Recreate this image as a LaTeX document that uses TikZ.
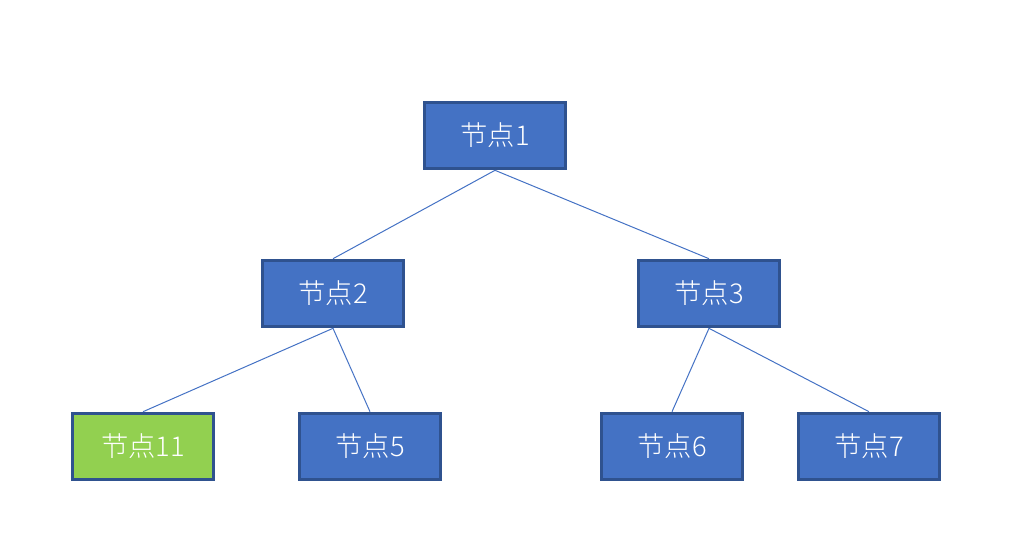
\documentclass[tikz,border=0pt]{standalone}
\usepackage{fontspec}
\setmainfont{Carlito}
\newfontfamily\cjk{Noto Sans CJK SC Light}
\definecolor{boxblue}{HTML}{4472C4}
\definecolor{boxedge}{HTML}{2F528F}
\definecolor{boxgreen}{HTML}{92D050}
\tikzset{treenode/.style={rectangle,draw=boxedge,line width=2.2pt,fill=boxblue,text=white,minimum width=106pt,minimum height=50pt,inner sep=0pt,font=\cjk\fontsize{20.5}{22}\selectfont},
  leafnode/.style={treenode,fill=boxgreen},
  link/.style={draw=boxblue,line width=0.75pt}}
\begin{document}
\begin{tikzpicture}[x=0.75pt,y=-0.75pt]
\useasboundingbox (0,0) rectangle (1016,533);
\node [treenode] (n1) at (495,135.5) {节点1};
\node [treenode] (n2) at (333,293.5) {节点2};
\node [treenode] (n3) at (709,293.5) {节点3};
\node [leafnode] (n11) at (143,446.5) {节点11};
\node [treenode] (n5) at (370,446.5) {节点5};
\node [treenode] (n6) at (672,446.5) {节点6};
\node [treenode] (n7) at (869,446.5) {节点7};
\draw [link] (n1.south) -- (n2.north);
\draw [link] (n1.south) -- (n3.north);
\draw [link] (n2.south) -- (n11.north);
\draw [link] (n2.south) -- (n5.north);
\draw [link] (n3.south) -- (n6.north);
\draw [link] (n3.south) -- (n7.north);
\end{tikzpicture}
\end{document}
